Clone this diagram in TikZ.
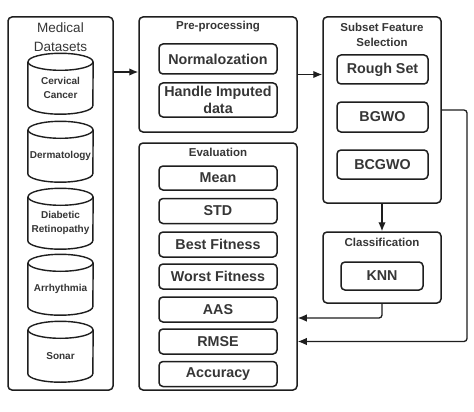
\documentclass[tikz,border=0pt]{standalone}
\usepackage{fontspec}
\setmainfont{Liberation Sans}
\usetikzlibrary{arrows.meta}
\definecolor{linec}{HTML}{1E1E1E}
\definecolor{txtc}{HTML}{363636}
\begin{document}
\begin{tikzpicture}[x=1pt,y=1pt,
  outer/.style={draw=linec, line width=1.5pt, rounded corners=4pt, inner sep=0pt},
  inbox/.style={draw=linec, line width=1.5pt, rounded corners=4pt, font=\fontsize{14.3}{17}\selectfont\bfseries, text=txtc, align=center, inner sep=0pt},
  ttl/.style={font=\fontsize{11.5}{15}\selectfont\bfseries, text=txtc, align=center, inner sep=0pt},
  cylt/.style={font=\fontsize{10}{14}\selectfont\bfseries, text=txtc, align=center, minimum width=65pt, minimum height=52pt, inner sep=0pt},
  arr/.style={draw=linec, line width=1.3pt, -{Latex[length=9pt,width=7.5pt]}}
]
\useasboundingbox (0,0) rectangle (474,-412);
\fill[white] (0,0) rectangle (474,-412);

% outer boxes
\node[outer, minimum width=105pt, minimum height=373pt] (med) at (60.5,-203.5) {};
\node[outer, minimum width=158pt, minimum height=115pt] (pre) at (218,-74.5) {};
\node[outer, minimum width=118pt, minimum height=186pt] (sub) at (382,-110) {};
\node[outer, minimum width=118pt, minimum height=71pt] (cls) at (382,-267.5) {};
\node[outer, minimum width=158pt, minimum height=247pt] (eval) at (218,-266.5) {};

% titles
\node[font=\fontsize{13.5}{19}\selectfont, text=txtc, align=center, inner sep=0pt] (medt) at (60.5,-37.5) {Medical\\Datasets};
\node[ttl] (pret) at (218,-27) {Pre-processing};
\node[ttl] (subt) at (382,-34.5) {Subset Feature\\Selection};
\node[ttl] (clst) at (382,-242) {Classification};
\node[ttl] (evalt) at (218,-152) {Evaluation};

% cylinders
\node[cylt] (c1) at (60.5,-88) {Cervical\\Cancer};
\node[cylt] (c2) at (60.5,-156) {Dermatology};
\node[cylt] (c3) at (60.5,-223) {Diabetic\\Retinopathy};
\node[cylt] (c4) at (60.5,-289) {Arrhythmia};
\node[cylt] (c5) at (60.5,-356) {Sonar};
\foreach \c in {c1,c2,c3,c4,c5}{
  \draw[draw=linec, line width=1.4pt] (\c.north west) -- ([yshift=8.5pt]\c.south west)
     arc[start angle=180, end angle=360, x radius=32.5pt, y radius=8.5pt] -- (\c.north east);
  \draw[draw=linec, line width=1.4pt] (\c.north) ellipse[x radius=32.5pt, y radius=8.5pt];
}

% pre-processing items
\node[inbox, minimum width=118pt, minimum height=30pt] (norm) at (218,-59) {Normalozation};
\node[inbox, minimum width=118pt, minimum height=34pt] (hand) at (218,-100) {Handle Imputed\\data};

% subset items
\node[inbox, minimum width=91pt, minimum height=29pt] (rough) at (382.5,-69.5) {Rough Set};
\node[inbox, minimum width=91pt, minimum height=30pt] (bgwo) at (382.5,-117) {BGWO};
\node[inbox, minimum width=91pt, minimum height=29pt] (bcgwo) at (382.5,-164.5) {BCGWO};

% classification
\node[inbox, minimum width=82pt, minimum height=28pt] (knn) at (382,-276) {KNN};

% evaluation items
\node[inbox, minimum width=118pt, minimum height=24pt] (mean) at (218,-178) {Mean};
\node[inbox, minimum width=118pt, minimum height=25pt] (std) at (218,-211) {STD};
\node[inbox, minimum width=118pt, minimum height=25pt] (best) at (218,-244.5) {Best Fitness};
\node[inbox, minimum width=118pt, minimum height=25pt] (worst) at (218,-276.5) {Worst Fitness};
\node[inbox, minimum width=118pt, minimum height=25pt] (aas) at (218,-309.5) {AAS};
\node[inbox, minimum width=118pt, minimum height=25pt] (rmse) at (218,-341.5) {RMSE};
\node[inbox, minimum width=118pt, minimum height=25pt] (acc) at (218,-374) {Accuracy};

% connectors
\draw[arr] ([yshift=2.5pt]med.east |- pre.west) -- ([yshift=2.5pt]pre.west);
\draw[arr] (pre.east) -- (pre.east -| sub.west);
\draw[arr] (sub.south) -- (cls.north);
\draw[arr, rounded corners=3pt] (cls.south) |- ([yshift=-8.5pt]eval.east |- aas.east);
\coordinate (rt) at (467,-110);
\draw[arr, rounded corners=3pt] (sub.east) -- (rt) |- (eval.east |- rmse.east);
\end{tikzpicture}
\end{document}
